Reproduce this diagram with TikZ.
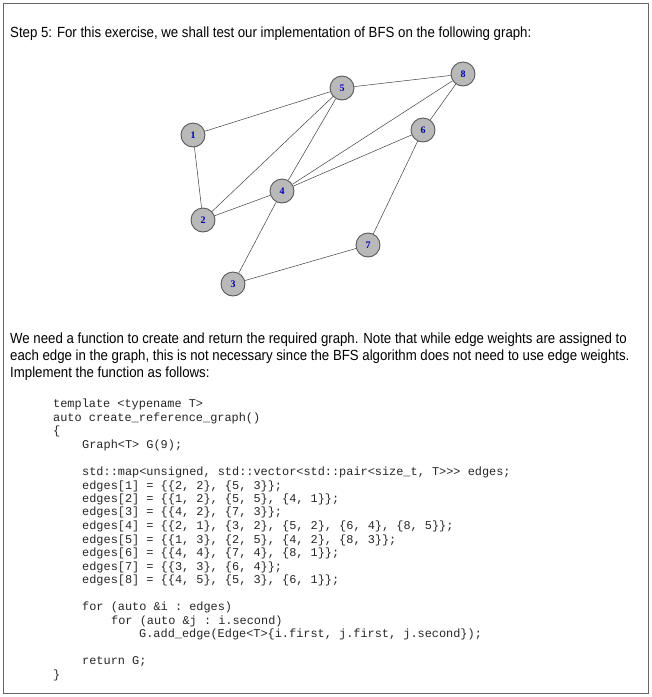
\documentclass[tikz,border=0pt]{standalone}
\usepackage{fontspec}
\setmainfont{Liberation Sans}[FakeStretch=0.9]
\setmonofont{Liberation Mono}
\newfontfamily\numfont{Liberation Serif}
\begin{document}
\begin{tikzpicture}[x=1pt,y=-1pt,
  vtx/.style={circle,draw=gray!70!black,fill=gray!55,line width=0.9pt,minimum size=24pt,inner sep=0pt,font=\numfont\fontsize{10}{10}\selectfont\bfseries,text=blue!70!black},
  edge/.style={draw=black!75,line width=0.5pt},
  txt/.style={anchor=base west,inner sep=0pt,font=\fontsize{14.7}{17}\selectfont},
  code/.style={anchor=base west,inner sep=0pt,font=\ttfamily\fontsize{11.9}{13}\selectfont,text=black!85}]
\useasboundingbox (0,0) rectangle (652,697);
\draw[black!60,line width=0.6pt] (3.5,3.5) rectangle (648.5,693.5);
\node[txt] (t0) at (10,37) {Step 5: For this exercise, we shall test our implementation of BFS on the following graph:};
\node[txt] (t1) at (10,343) {We need a function to create and return the required graph. Note that while edge weights are assigned to};
\node[txt] (t2) at (10,360) {each edge in the graph, this is not necessary since the BFS algorithm does not need to use edge weights.};
\node[txt] (t3) at (10,377) {Implement the function as follows:};
\node[vtx] (n1) at (193,135) {1};
\node[vtx] (n2) at (203,220) {2};
\node[vtx] (n3) at (233,284) {3};
\node[vtx] (n4) at (282,191) {4};
\node[vtx] (n5) at (342,88) {5};
\node[vtx] (n6) at (423,130) {6};
\node[vtx] (n7) at (368,245) {7};
\node[vtx] (n8) at (463,74) {8};
\foreach \a/\b in {1/5,1/2,2/5,2/4,3/4,3/7,4/5,4/8,4/6,5/8,6/8,6/7}
  \draw[edge] (n\a) -- (n\b);
\foreach \y/\x/\s [count=\i] in {
 407/53/{template <typename T>},
 421/53/{auto create\_reference\_graph()},
 434/53/{\{},
 448/82/{Graph<T> G(9);},
 475/82/{std::map<unsigned, std::vector<std::pair<size\_t, T>>> edges;},
 489/82/{edges[1] = \{\{2, 2\}, \{5, 3\}\};},
 502/82/{edges[2] = \{\{1, 2\}, \{5, 5\}, \{4, 1\}\};},
 515/82/{edges[3] = \{\{4, 2\}, \{7, 3\}\};},
 529/82/{edges[4] = \{\{2, 1\}, \{3, 2\}, \{5, 2\}, \{6, 4\}, \{8, 5\}\};},
 543/82/{edges[5] = \{\{1, 3\}, \{2, 5\}, \{4, 2\}, \{8, 3\}\};},
 556/82/{edges[6] = \{\{4, 4\}, \{7, 4\}, \{8, 1\}\};},
 570/82/{edges[7] = \{\{3, 3\}, \{6, 4\}\};},
 583/82/{edges[8] = \{\{4, 5\}, \{5, 3\}, \{6, 1\}\};},
 610/82/{for (auto \&i : edges)},
 624/111/{for (auto \&j : i.second)},
 637/139/{G.add\_edge(Edge<T>\{i.first, j.first, j.second\});},
 664/82/{return G;},
 678/53/{\}}}
  \node[code] (c\i) at (\x,\y) {\s};
\end{tikzpicture}
\end{document}
